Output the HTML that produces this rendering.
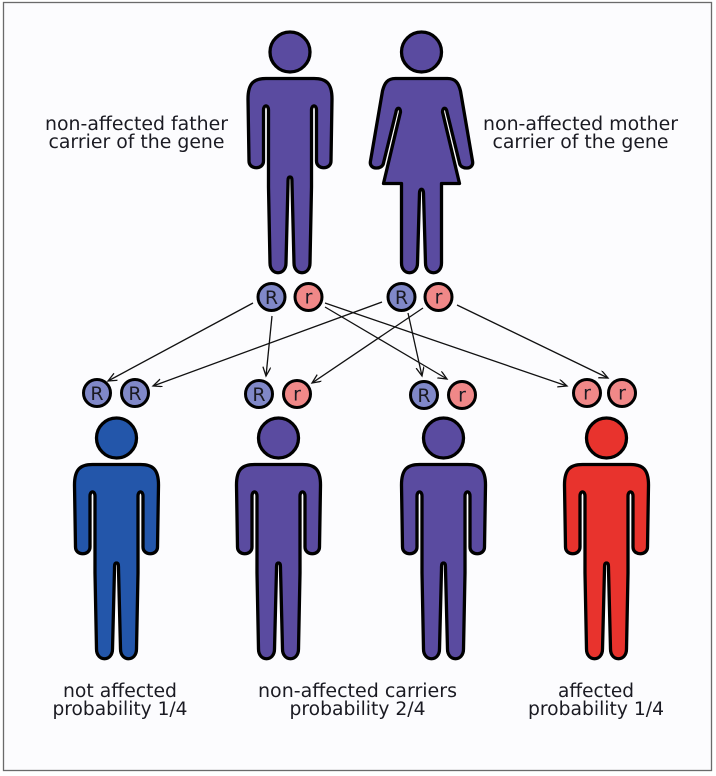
<!DOCTYPE html>
<html>
<head>
<meta charset="utf-8">
<style>
  html, body { margin: 0; padding: 0; background: #ffffff; }
  svg { display: block; }
  text { font-family: "DejaVu Sans", "Liberation Sans", sans-serif; fill: #1a1a22; }
</style>
</head>
<body>
<svg width="716" height="776" viewBox="0 0 716 776" xmlns="http://www.w3.org/2000/svg">
  <defs>
    <marker id="ah" markerUnits="userSpaceOnUse" markerWidth="12" markerHeight="10" refX="9" refY="4" orient="auto">
      <path d="M0,0 L9,4 L0,8" fill="none" stroke="#111" stroke-width="1.3"/>
    </marker>
    <path id="male" d="M 0,100 C -2,100 -2,102 -2,106 L -4,186 C -4,199 -20,199 -20,186 L -21.5,110 L -21.5,33 C -21.5,27.5 -26.5,27.5 -26.5,33 L -26.5,84 C -26.5,93 -41,93 -41,84 L -42,22 C -42,6 -36,1.5 -24,1.5 L 24,1.5 C 36,1.5 42,6 42,22 L 41,84 C 41,93 26.5,93 26.5,84 L 26.5,33 C 26.5,27.5 21.5,27.5 21.5,33 L 21.5,110 L 20,186 C 20,199 4,199 4,186 L 2,106 C 2,102 2,100 0,100 Z"/>
    <path id="female" d="M -26,1.5 L 26,1.5 C 34,1.5 37,6 39,14 L 51,84 C 53,93 39,93 38,86 L 25.5,35 C 25,30 21,30 21,35 L 38,106.5 L 20,106.5 L 20,186 C 20,199 4,199 4,186 L 2,116 C 2,111 -2,111 -2,116 L -4,186 C -4,199 -20,199 -20,186 L -20,106.5 L -38,106.5 L -21,35 C -21,30 -25,30 -25.5,35 L -38,86 C -39,93 -53,93 -51,84 L -39,14 C -37,6 -34,1.5 -26,1.5 Z"/>
  </defs>

  <!-- background & frame -->
  <rect x="0" y="0" width="716" height="776" fill="#ffffff"/>
  <rect x="3.5" y="2.5" width="708" height="768" fill="#fcfcfe" stroke="#6a6a6a" stroke-width="1.3"/>

  <!-- parents -->
  <g stroke="#000" stroke-width="3.3" stroke-linejoin="round" fill="#5a4ba0">
    <circle cx="290" cy="52" r="20"/>
    <use href="#male" transform="translate(290,77)"/>
    <circle cx="421.5" cy="52" r="20"/>
    <use href="#female" transform="translate(421.5,77)"/>
  </g>

  <!-- children -->
  <g stroke="#000" stroke-width="3.3" stroke-linejoin="round">
    <g fill="#2356aa">
      <circle cx="116.5" cy="438" r="20"/>
      <use href="#male" transform="translate(116.5,463)"/>
    </g>
    <g fill="#5a4ba0">
      <circle cx="278.5" cy="438" r="20"/>
      <use href="#male" transform="translate(278.5,463)"/>
      <circle cx="443.5" cy="438" r="20"/>
      <use href="#male" transform="translate(443.5,463)"/>
    </g>
    <g fill="#e8332d">
      <circle cx="606.5" cy="438" r="20"/>
      <use href="#male" transform="translate(606.5,463)"/>
    </g>
  </g>

  <!-- arrows -->
  <g stroke="#111" stroke-width="1.3" fill="none" marker-end="url(#ah)">
    <line x1="253" y1="303" x2="108" y2="381"/>
    <line x1="272" y1="316" x2="266" y2="376"/>
    <line x1="325" y1="307" x2="447" y2="379"/>
    <line x1="325" y1="303" x2="567" y2="386"/>
    <line x1="382" y1="302" x2="153" y2="386"/>
    <line x1="408" y1="313" x2="422" y2="376"/>
    <line x1="423" y1="308" x2="312" y2="383"/>
    <line x1="457" y1="305" x2="608" y2="378"/>
  </g>

  <!-- alleles -->
  <g stroke="#000" stroke-width="3">
    <circle cx="271.5" cy="297" r="13.5" fill="#8088c8"/>
    <circle cx="308.5" cy="297" r="13.5" fill="#f08888"/>
    <circle cx="401.5" cy="297" r="13.5" fill="#8088c8"/>
    <circle cx="438.5" cy="297" r="13.5" fill="#f08888"/>

    <circle cx="97" cy="393" r="13.5" fill="#8088c8"/>
    <circle cx="135" cy="393" r="13.5" fill="#8088c8"/>
    <circle cx="259" cy="394" r="13.5" fill="#8088c8"/>
    <circle cx="297" cy="394" r="13.5" fill="#f08888"/>
    <circle cx="424" cy="395" r="13.5" fill="#8088c8"/>
    <circle cx="462" cy="395" r="13.5" fill="#f08888"/>
    <circle cx="587" cy="393" r="13.5" fill="#f08888"/>
    <circle cx="622" cy="393" r="13.5" fill="#f08888"/>
  </g>
  <g font-size="19" text-anchor="middle">
    <text x="271.5" y="304">R</text>
    <text x="308.5" y="303.5">r</text>
    <text x="401.5" y="304">R</text>
    <text x="438.5" y="303.5">r</text>
    <text x="97" y="400">R</text>
    <text x="135" y="400">R</text>
    <text x="259" y="401">R</text>
    <text x="297" y="400.5">r</text>
    <text x="424" y="402">R</text>
    <text x="462" y="401.5">r</text>
    <text x="587" y="399.5">r</text>
    <text x="622" y="399.5">r</text>
  </g>

  <!-- labels -->
  <g font-size="18.5" text-anchor="middle">
    <text x="136.5" y="130" textLength="183" lengthAdjust="spacingAndGlyphs">non-affected father</text>
    <text x="136.5" y="148" textLength="176" lengthAdjust="spacingAndGlyphs">carrier of the gene</text>
    <text x="580.5" y="130" textLength="195" lengthAdjust="spacingAndGlyphs">non-affected mother</text>
    <text x="580.5" y="148" textLength="176" lengthAdjust="spacingAndGlyphs">carrier of the gene</text>

    <text x="120" y="697" textLength="114" lengthAdjust="spacingAndGlyphs">not affected</text>
    <text x="120" y="715" textLength="135" lengthAdjust="spacingAndGlyphs">probability 1/4</text>
    <text x="357.5" y="697" textLength="199" lengthAdjust="spacingAndGlyphs">non-affected carriers</text>
    <text x="357.5" y="715" textLength="136" lengthAdjust="spacingAndGlyphs">probability 2/4</text>
    <text x="596" y="697" textLength="76" lengthAdjust="spacingAndGlyphs">affected</text>
    <text x="596" y="715" textLength="136" lengthAdjust="spacingAndGlyphs">probability 1/4</text>
  </g>
</svg>
</body>
</html>
